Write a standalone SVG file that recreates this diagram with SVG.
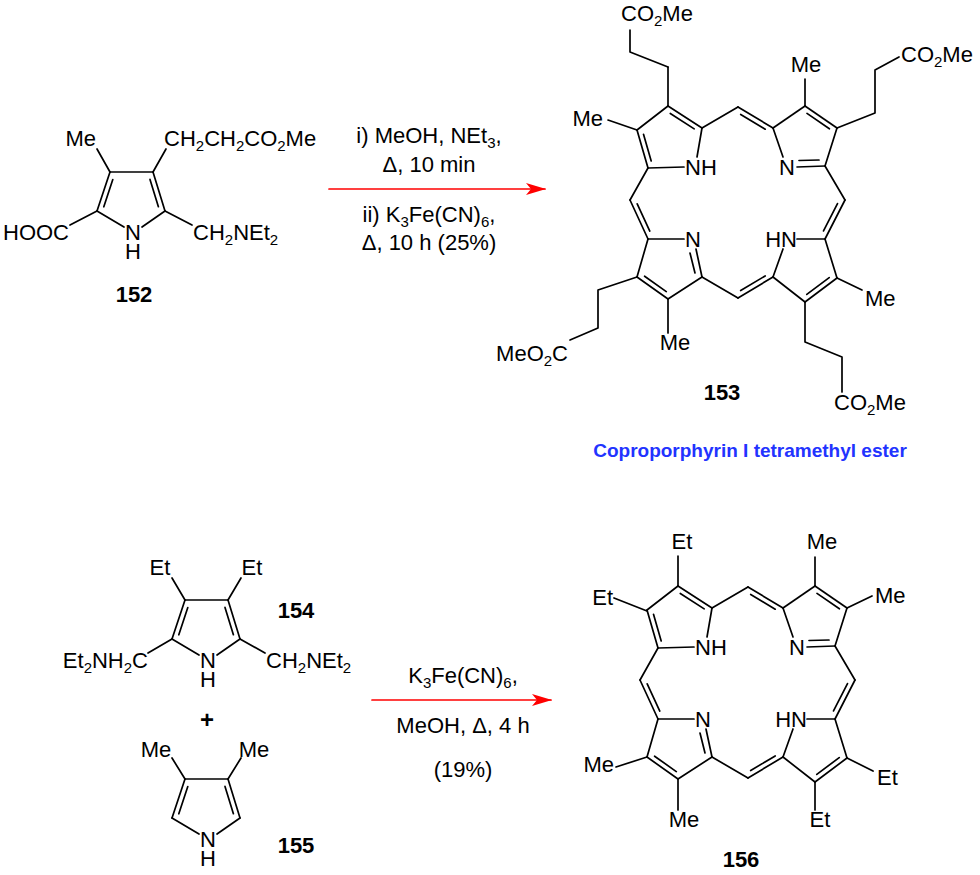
<svg xmlns="http://www.w3.org/2000/svg" width="980" height="875" viewBox="0 0 980 875">
<style>
line,polyline{stroke:#000;stroke-width:1.7;fill:none;stroke-linecap:round;stroke-linejoin:round}
text{font-family:"Liberation Sans",Arial,sans-serif;font-size:22px;fill:#000}
.b{font-weight:bold}
.m{text-anchor:middle}
.e{text-anchor:end}
.s{font-size:15px}
.arr{stroke:#ff0000;stroke-width:1.7}
.blue{fill:#2233ff;font-weight:bold;font-size:19px}
</style>
<defs>
<marker id="ah" markerWidth="20" markerHeight="12" refX="19" refY="6" orient="auto" markerUnits="userSpaceOnUse">
<path d="M0,0 L20,6 L0,12 L5,6 Z" fill="#ff0000"/>
</marker>
<g id="pyr">
<line x1="110" y1="172" x2="153" y2="172"/>
<line x1="110" y1="172" x2="97" y2="211"/>
<line x1="112.8" y1="179.5" x2="103.8" y2="206.8"/>
<line x1="153" y1="172" x2="165" y2="211"/>
<line x1="150" y1="179.4" x2="158.4" y2="206.7"/>
<line x1="97" y1="211" x2="124" y2="227"/>
<line x1="165" y1="211" x2="142" y2="227"/>
<text class="m" x="133" y="240">N</text>
<text class="m" x="133" y="259">H</text>
</g>
<g id="core">
<line x1="668" y1="106" x2="702" y2="128"/>
<line x1="670.3" y1="113.5" x2="694.2" y2="128.9"/>
<line x1="668" y1="106" x2="637" y2="130"/>
<line x1="637" y1="130" x2="648" y2="168"/>
<line x1="643.5" y1="134.3" x2="651.2" y2="160.9"/>
<line x1="648" y1="168" x2="684" y2="167"/>
<line x1="697" y1="157" x2="702" y2="128"/>
<text x="685" y="175">NH</text>
<line x1="702" y1="128" x2="738" y2="107"/>
<line x1="738" y1="107" x2="773" y2="128"/>
<line x1="740.7" y1="114.5" x2="765.2" y2="129.2"/>
<line x1="773" y1="128" x2="805" y2="106"/>
<line x1="805" y1="106" x2="837" y2="128"/>
<line x1="807" y1="113.4" x2="829.4" y2="128.8"/>
<line x1="837" y1="128" x2="825" y2="166"/>
<line x1="773" y1="128" x2="783" y2="157"/>
<line x1="797" y1="167" x2="825" y2="166"/>
<line x1="799" y1="160.5" x2="819" y2="160"/>
<text class="m" x="787" y="175">N</text>
<line x1="825" y1="166" x2="845" y2="200"/>
<line x1="845" y1="200" x2="825" y2="239"/>
<line x1="837.5" y1="203.6" x2="823.5" y2="230.9"/>
<line x1="797" y1="239" x2="825" y2="239"/>
<line x1="825" y1="239" x2="837" y2="278"/>
<line x1="837" y1="278" x2="805" y2="302"/>
<line x1="829.2" y1="277.6" x2="806.8" y2="294.4"/>
<line x1="805" y1="302" x2="773" y2="277"/>
<line x1="783" y1="249" x2="773" y2="277"/>
<text class="e" x="797" y="247">HN</text>
<line x1="773" y1="277" x2="738" y2="298"/>
<line x1="765.2" y1="275.9" x2="740.7" y2="290.6"/>
<line x1="738" y1="298" x2="702" y2="277"/>
<line x1="702" y1="277" x2="668" y2="299"/>
<line x1="668" y1="299" x2="637" y2="277"/>
<line x1="666.3" y1="291.6" x2="644.6" y2="276.2"/>
<line x1="637" y1="277" x2="648" y2="239"/>
<line x1="648" y1="239" x2="684" y2="239"/>
<line x1="696" y1="249" x2="702" y2="277"/>
<line x1="690" y1="253" x2="695" y2="273"/>
<text class="m" x="693" y="247">N</text>
<line x1="648" y1="239" x2="630" y2="200"/>
<line x1="649.8" y1="231.1" x2="637.2" y2="203.8"/>
<line x1="630" y1="200" x2="648" y2="168"/>
</g>
</defs>

<g id="c152">
<use href="#pyr"/>
<line x1="110" y1="172" x2="97" y2="149"/>
<text class="e" x="96" y="146">Me</text>
<line x1="153" y1="172" x2="166" y2="149"/>
<text x="164" y="146">CH<tspan class="s" dy="5">2</tspan><tspan dy="-5">CH</tspan><tspan class="s" dy="5">2</tspan><tspan dy="-5">CO</tspan><tspan class="s" dy="5">2</tspan><tspan dy="-5">Me</tspan></text>
<line x1="165" y1="211" x2="192" y2="225"/>
<text x="193" y="240">CH<tspan class="s" dy="5">2</tspan><tspan dy="-5">NEt</tspan><tspan class="s" dy="5">2</tspan></text>
<line x1="97" y1="211" x2="70" y2="225"/>
<text class="e" x="69" y="240">HOOC</text>
<text class="b m" x="134" y="302">152</text>
</g>

<g id="c153">
<use href="#core"/>
<line x1="668" y1="106" x2="668" y2="67"/>
<polyline points="668,67 630,52 630,30"/>
<text x="621" y="21">CO<tspan class="s" dy="5">2</tspan><tspan dy="-5">Me</tspan></text>
<line x1="637" y1="130" x2="608" y2="120"/>
<text class="e" x="603" y="126">Me</text>
<line x1="805" y1="106" x2="805" y2="79"/>
<text class="m" x="806" y="72">Me</text>
<polyline points="837,128 875,113 875,70 899,57"/>
<text x="901" y="62">CO<tspan class="s" dy="5">2</tspan><tspan dy="-5">Me</tspan></text>
<line x1="837" y1="278" x2="862" y2="290"/>
<text x="865" y="306">Me</text>
<polyline points="805,302 805,342 842,357 842,392"/>
<text x="834" y="410">CO<tspan class="s" dy="5">2</tspan><tspan dy="-5">Me</tspan></text>
<polyline points="637,277 598,290 598,328 570,340"/>
<text class="e" x="568" y="361">MeO<tspan class="s" dy="5">2</tspan><tspan dy="-5">C</tspan></text>
<line x1="668" y1="299" x2="668" y2="333"/>
<text class="m" x="675" y="350">Me</text>
<text class="b m" x="722" y="400">153</text>
<text class="blue m" x="750" y="457">Coproporphyrin I tetramethyl ester</text>
</g>

<g id="c154">
<g transform="translate(75,428)"><use href="#pyr"/></g>
<line x1="185" y1="600" x2="172" y2="578"/>
<text class="m" x="160" y="575">Et</text>
<line x1="228" y1="600" x2="241" y2="578"/>
<text class="m" x="252" y="575">Et</text>
<line x1="240" y1="639" x2="265" y2="653"/>
<text x="266" y="668">CH<tspan class="s" dy="5">2</tspan><tspan dy="-5">NEt</tspan><tspan class="s" dy="5">2</tspan></text>
<line x1="172" y1="639" x2="148" y2="653"/>
<text class="e" x="148" y="668">Et<tspan class="s" dy="5">2</tspan><tspan dy="-5">NH</tspan><tspan class="s" dy="5">2</tspan><tspan dy="-5">C</tspan></text>
<text class="b m" x="296" y="618">154</text>
</g>

<text class="b m" x="207" y="728" style="font-size:24px">+</text>

<g id="c155">
<g transform="translate(75,607)"><use href="#pyr"/></g>
<line x1="185" y1="779" x2="172" y2="758"/>
<text class="m" x="156" y="757">Me</text>
<line x1="228" y1="779" x2="241" y2="758"/>
<text class="m" x="254" y="757">Me</text>
<text class="b m" x="296" y="853">155</text>
</g>

<g id="c156">
<g transform="translate(10,480)"><use href="#core"/></g>
<line x1="678" y1="586" x2="678" y2="556"/>
<text class="m" x="682" y="549">Et</text>
<line x1="647" y1="611" x2="614" y2="598"/>
<text class="e" x="613" y="605">Et</text>
<line x1="815" y1="586" x2="815" y2="557"/>
<text class="m" x="822" y="549">Me</text>
<line x1="847" y1="608" x2="872" y2="596"/>
<text x="875" y="603">Me</text>
<line x1="847" y1="758" x2="873" y2="771"/>
<text x="877" y="785">Et</text>
<line x1="815" y1="782" x2="815" y2="810"/>
<text class="m" x="820" y="827">Et</text>
<line x1="647" y1="757" x2="616" y2="767"/>
<text class="e" x="614" y="772">Me</text>
<line x1="678" y1="779" x2="678" y2="810"/>
<text class="m" x="684" y="827">Me</text>
<text class="b m" x="741" y="867">156</text>
</g>

<g id="connectors">
<line class="arr" x1="329" y1="189" x2="545" y2="189" marker-end="url(#ah)"/>
<text class="m" x="429" y="143">i) MeOH, NEt<tspan class="s" dy="5">3</tspan><tspan dy="-5">,</tspan></text>
<text class="m" x="429" y="172">Δ, 10 min</text>
<text class="m" x="429" y="222">ii) K<tspan class="s" dy="5">3</tspan><tspan dy="-5">Fe(CN)</tspan><tspan class="s" dy="5">6</tspan><tspan dy="-5">,</tspan></text>
<text class="m" x="429" y="250">Δ, 10 h (25%)</text>
<line class="arr" x1="372" y1="700" x2="551" y2="700" marker-end="url(#ah)"/>
<text class="m" x="463" y="683">K<tspan class="s" dy="5">3</tspan><tspan dy="-5">Fe(CN)</tspan><tspan class="s" dy="5">6</tspan><tspan dy="-5">,</tspan></text>
<text class="m" x="463" y="733">MeOH, Δ, 4 h</text>
<text class="m" x="463" y="777">(19%)</text>
</g>
</svg>
